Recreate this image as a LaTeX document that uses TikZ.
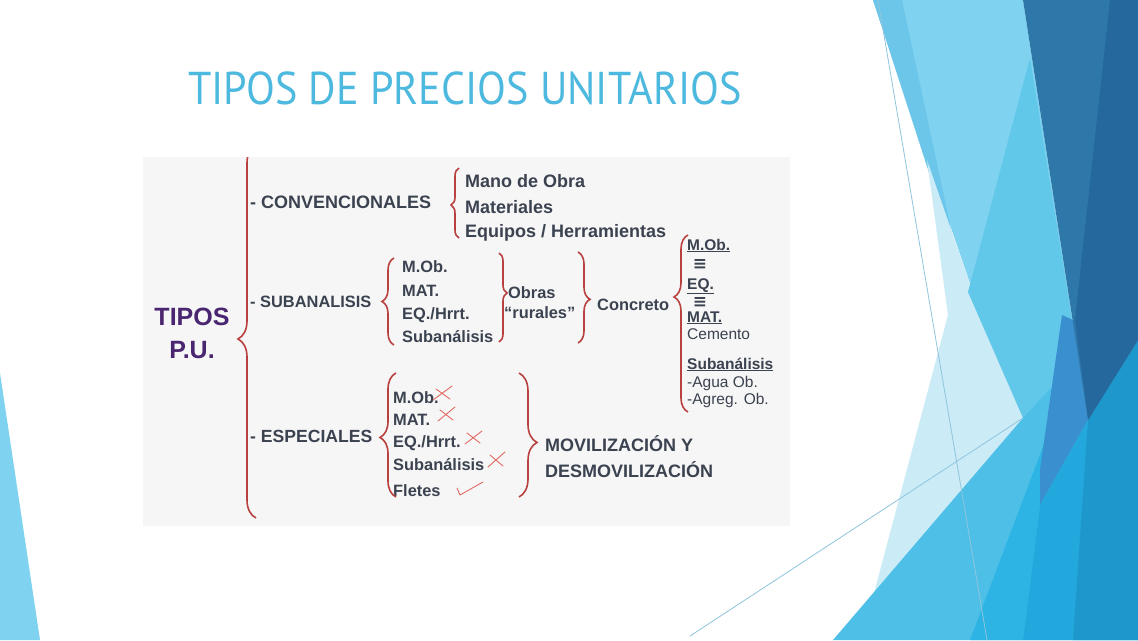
\documentclass[tikz,border=0pt]{standalone}
\usepackage{fontspec}
\usepackage{graphicx}
\setmainfont{Liberation Sans}
\newfontfamily\titlefont{PT Sans}
\newfontfamily\symfont{DejaVu Sans}
\usetikzlibrary{decorations.pathreplacing}
\definecolor{titleblue}{HTML}{4EB9DF}
\definecolor{ink}{HTML}{3B4250}
\definecolor{purp}{HTML}{4A2670}
\definecolor{brred}{HTML}{B8403F}
\definecolor{xred}{HTML}{E06A62}
\definecolor{boxbg}{HTML}{F6F6F6}
\definecolor{fa}{HTML}{7FD2F0}
\definecolor{fb}{HTML}{6CC6EA}
\definecolor{fpale}{HTML}{CBEBF7}
\definecolor{fmed}{HTML}{62C8EA}
\definecolor{fdA}{HTML}{2E78A9}
\definecolor{fdB}{HTML}{25689E}
\definecolor{fstrip}{HTML}{3A8FCF}
\definecolor{fbA}{HTML}{4EC0E8}
\definecolor{fbA2}{HTML}{2DB4E4}
\definecolor{fbB}{HTML}{22A8DC}
\definecolor{fbC}{HTML}{1E98CC}
\definecolor{thinl}{HTML}{8EC5DC}
\begin{document}
\begin{tikzpicture}[x=1pt,y=-1pt,
  every node/.style={inner sep=0pt, anchor=base west},
  tb/.style={text=ink, font=\bfseries\fontsize{16.4}{18}\selectfont},
  tbl/.style={text=ink, font=\bfseries\fontsize{18}{20}\selectfont},
  tbr/.style={text=ink, font=\bfseries\fontsize{15.5}{17}\selectfont},
  trr/.style={text=ink, font=\fontsize{15.5}{17}\selectfont},
  symb/.style={text=ink, anchor=base, text height=9pt, text depth=0pt, font=\symfont\bfseries\fontsize{17}{17}\selectfont},
  purpl/.style={text=purp, anchor=base, font=\bfseries\fontsize{25}{25}\selectfont},
  brc/.style={draw=brred, line width=1.6pt, decorate},
  xmk/.style={draw=xred, line width=0.9pt, line cap=round, line join=round}
]
\useasboundingbox (0,0) rectangle (1138,640);
\fill[white] (0,0) rectangle (1138,640);
% left decoration
\fill[fa] (0,373) -- (40,640) -- (0,640) -- cycle;
% right facets
\fill[fa] (873,0) -- (1023,0) -- (1088,420) -- (1010,400) -- cycle;
\fill[fb] (873,0) -- (902,0) -- (958,262) -- cycle;
\fill[fpale] (927,160) -- (972,290) -- (1023,418) -- (873,597) -- (948,315) -- cycle;
\fill[fmed] (1030,58) -- (1088,420) -- (1023,418) -- (968,292) -- cycle;
\fill[fbA] (833,640) -- (1023,418) -- (1060,378) -- (1138,345) -- (1138,640) -- cycle;
\fill[fbA2] (1067,383) -- (1040,505) -- (1023,640) -- (970,640) -- cycle;
\fill[fstrip] (1062,315) -- (1073,320) -- (1088,420) -- (1040,505) -- (1040,470) -- cycle;
\fill[fbB] (1088,420) -- (1138,340) -- (1138,640) -- (1023,640) -- (1040,505) -- cycle;
\fill[fbC] (1088,420) -- (1138,340) -- (1138,640) -- (1073,640) -- cycle;
\fill[fdA] (1023,0) -- (1138,0) -- (1138,340) -- (1088,420) -- cycle;
\fill[fdB] (1110,0) -- (1138,0) -- (1138,340) -- (1088,420) -- (1075,320) -- cycle;
\draw[thinl, line width=0.8pt] (878,0) -- (987,640);
\draw[thinl, line width=0.8pt] (690,636) -- (1023,418);
% title
\node[text=titleblue, font=\titlefont\fontsize{46}{46}\selectfont] (title) at (188,104) {\scalebox{0.915}[1]{TIPOS DE PRECIOS UNITARIOS}};
% picture box
\fill[boxbg] (143,157) rectangle (790,526);
% texts
\node[purpl] (tip1) at (192,325) {TIPOS};
\node[purpl] (tip2) at (192,358) {P.U.};
\node[tbl] (conv) at (250,208) {- CONVENCIONALES};
\node[tbl] (mano) at (465,187) {Mano de Obra};
\node[tbl] (mate) at (465,213) {Materiales};
\node[tbl] (equi) at (465,237) {Equipos / Herramientas};
\node[tb] (suba) at (250,307) {- SUBANALISIS};
\node[tb] (s1) at (402,272) {M.Ob.};
\node[tb] (s2) at (402,296) {MAT.};
\node[tb] (s3) at (402,319) {EQ./Hrrt.};
\node[tb] (s4) at (402,342) {Subanálisis};
\node[tb] (obras) at (508,298) {Obras};
\node[tb] (rur) at (504,318) {“rurales”};
\node[tb] (conc) at (597,310) {Concreto};
\node[tbr] (r1) at (687,250) {\underline{M.Ob.}};
\node[symb] (eq1) at (700,269) {≡};
\node[tbr] (r2) at (687,289) {\underline{EQ.}};
\node[symb] (eq2) at (700,307) {≡};
\node[tbr] (r3) at (687,322) {\underline{MAT.}};
\node[trr] (r4) at (687,339) {Cemento};
\node[tbr] (r5) at (687,369) {\underline{Subanálisis}};
\node[trr] (r6) at (687,387) {-Agua Ob.};
\node[trr] (r7) at (687,404) {-Agreg. Ob.};
\node[tbl, font=\bfseries\fontsize{17.6}{20}\selectfont] (esp) at (250,442) {- ESPECIALES};
\node[tb] (e1) at (393,403) {M.Ob.};
\node[tb] (e2) at (393,425) {MAT.};
\node[tb] (e3) at (393,447) {EQ./Hrrt.};
\node[tb] (e4) at (393,470) {Subanálisis};
\node[tb] (e5) at (393,496) {Fletes};
\node[tbl] (mov1) at (545,451) {MOVILIZACIÓN Y};
\node[tbl] (mov2) at (545,477) {DESMOVILIZACIÓN};
% braces
\coordinate (bA1) at (256,518); \coordinate (bA2) at (256,145);
\coordinate (bB1) at (459,238); \coordinate (bB2) at (459,168);
\coordinate (bC1) at (394,345); \coordinate (bC2) at (394,258);
\coordinate (bD1) at (499,253); \coordinate (bD2) at (499,342);
\coordinate (bE1) at (578,252); \coordinate (bE2) at (578,343);
\coordinate (bF1) at (688,412); \coordinate (bF2) at (688,235);
\coordinate (bG1) at (396,497); \coordinate (bG2) at (396,373);
\coordinate (bH1) at (519,373); \coordinate (bH2) at (519,497);
\begin{scope}
\clip (143,157) rectangle (790,526);
\draw[brc, decoration={brace, amplitude=18pt, aspect=0.48}] (bA1) -- (bA2);
\end{scope}
\draw[brc, decoration={brace, amplitude=8pt, aspect=0.47}] (bB1) -- (bB2);
\draw[brc, decoration={brace, amplitude=12pt, aspect=0.5}] (bC1) -- (bC2);
\draw[brc, decoration={brace, amplitude=8pt, aspect=0.45}] (bD1) -- (bD2);
\draw[brc, decoration={brace, amplitude=12pt, aspect=0.52}] (bE1) -- (bE2);
\draw[brc, decoration={brace, amplitude=14pt, aspect=0.65}] (bF1) -- (bF2);
\draw[brc, decoration={brace, amplitude=16pt, aspect=0.48}] (bG1) -- (bG2);
\draw[brc, decoration={brace, amplitude=18pt, aspect=0.56}] (bH1) -- (bH2);
% marks
\draw[xmk] (433,400) -- (452,386) (436,389) -- (450,399);
\draw[xmk] (438,421) -- (455,407) (440,410) -- (453,420);
\draw[xmk] (465,444) -- (482,431) (467,433) -- (480,443);
\draw[xmk] (488,467) -- (505,452) (490,455) -- (503,466);
\draw[xmk] (457,488) -- (460,495) -- (483,482);
\end{tikzpicture}
\end{document}
